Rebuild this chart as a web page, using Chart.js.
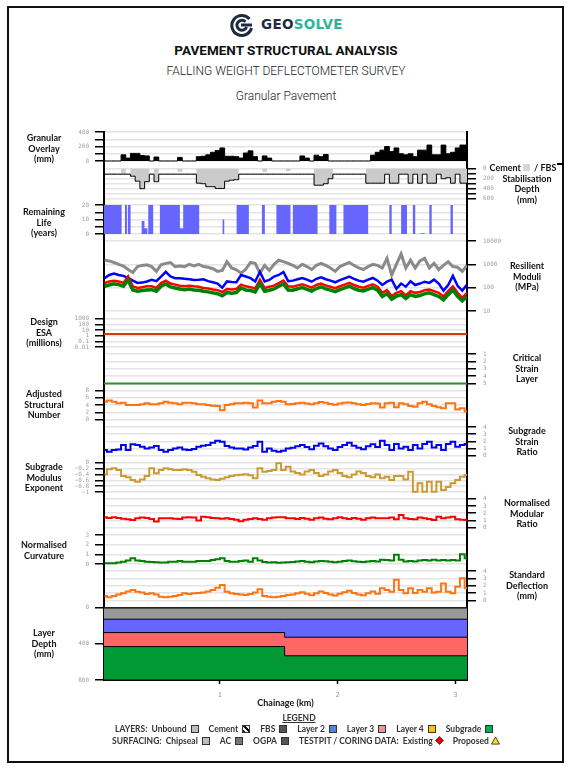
<!DOCTYPE html>
<html>
<head>
<meta charset="utf-8">
<script src="https://cdn.jsdelivr.net/npm/chart.js@4.4.1/dist/chart.umd.min.js"></script>
<style>
body { margin:0; background:#fff; }
#page { position:relative; width:572px; height:770px; overflow:hidden; font-family: Roboto, sans-serif; }
#frame { position:absolute; left:7px; top:6px; width:557px; height:757px; border:2px solid #111; box-sizing:border-box; }
canvas { position:absolute; left:0; top:0; }
.t { position:absolute; left:0; width:572px; text-align:center; color:#222; white-space:nowrap; }
.lbl { position:absolute; width:80px; text-align:center; font:700 9px/10.5px Lato, sans-serif; color:#111; z-index:2; }
.leg { position:absolute; white-space:nowrap; font:700 8.5px/10px Lato, sans-serif; color:#333; z-index:2; }
.sw { display:inline-block; width:8px; height:8px; border:1px solid #333; vertical-align:-1px; margin:0 10px 0 4px; box-sizing:border-box; }
.hatch { background:repeating-linear-gradient(45deg,#111 0 2px,#eee 2px 4px); }
</style>
</head>
<body>
<div id="page">
  <div id="frame"></div>

  <div style="position:absolute;left:230px;top:13px;">
    <svg width="24" height="24" viewBox="0 0 24 24">
      <path d="M19.5 6 A10 10 0 1 0 21.5 15" fill="none" stroke="#1d2b44" stroke-width="3"/>
      <path d="M15.5 8.8 A5 5 0 1 0 16.6 14" fill="none" stroke="#1d2b44" stroke-width="3"/>
      <path d="M11 12 H22" stroke="#1d2b44" stroke-width="3"/>
    </svg>
  </div>
  <div style="position:absolute;left:261px;top:16px;font:900 13.5px 'DejaVu Sans',sans-serif;letter-spacing:0.3px;">
    <span style="color:#1d2b44">GEO</span><span style="color:#2bb596">SOLVE</span>
  </div>
  <div class="t" style="top:42px;font:700 13.5px Roboto,sans-serif;color:#111;">PAVEMENT STRUCTURAL ANALYSIS</div>
  <div class="t" style="top:64px;font:300 12px Roboto,sans-serif;">FALLING WEIGHT DEFLECTOMETER SURVEY</div>
  <div class="t" style="top:89px;font:300 12px Roboto,sans-serif;">Granular Pavement</div>

  <div class="lbl" style="left:4px;top:133px;">Granular<br>Overlay<br>(mm)</div>
  <div class="lbl" style="left:4px;top:207px;">Remaining<br>Life<br>(years)</div>
  <div class="lbl" style="left:4px;top:317px;">Design<br>ESA<br>(millions)</div>
  <div class="lbl" style="left:4px;top:389px;">Adjusted<br>Structural<br>Number</div>
  <div class="lbl" style="left:4px;top:462px;">Subgrade<br>Modulus<br>Exponent</div>
  <div class="lbl" style="left:4px;top:540px;">Normalised<br>Curvature</div>
  <div class="lbl" style="left:4px;top:628px;">Layer<br>Depth<br>(mm)</div>

  <div class="lbl" style="left:482px;top:163px;width:90px;">Cement<span style="display:inline-block;width:7px;height:7px;background:#d6d6d6;margin:0 2px;"></span> / FBS<span style="display:inline-block;width:7px;height:2px;background:#000;vertical-align:6px;margin-left:1px;"></span><br>Stabilisation<br>Depth<br>(mm)</div>
  <div class="lbl" style="left:487px;top:261px;">Resilient<br>Moduli<br>(MPa)</div>
  <div class="lbl" style="left:487px;top:353px;">Critical<br>Strain<br>Layer</div>
  <div class="lbl" style="left:487px;top:426px;">Subgrade<br>Strain<br>Ratio</div>
  <div class="lbl" style="left:487px;top:498px;">Normalised<br>Modular<br>Ratio</div>
  <div class="lbl" style="left:487px;top:570px;">Standard<br>Deflection<br>(mm)</div>

  <div class="leg" style="left:0;width:598px;text-align:center;top:713px;"><u>LEGEND</u></div>
  <div class="leg" style="left:115px;top:724px;">LAYERS:&nbsp; Unbound<i class="sw" style="background:#bdbdbd"></i>Cement<i class="sw hatch"></i>FBS<i class="sw" style="background:#555"></i>Layer 2<i class="sw" style="background:#4f86d9"></i>Layer 3<i class="sw" style="background:#e39a9a"></i>Layer 4<i class="sw" style="background:#ffc400"></i>Subgrade<i class="sw" style="background:#00b050"></i></div>
  <div class="leg" style="left:112px;top:736px;">SURFACING:&nbsp; Chipseal<i class="sw" style="background:#bdbdbd"></i>AC<i class="sw" style="background:#777"></i>OGPA<i class="sw" style="background:#555"></i>TESTPIT / CORING DATA:&nbsp; Existing <svg width="9" height="9" viewBox="0 0 10 10" style="vertical-align:-1px;margin-right:9px"><path d="M5 0.5 L9.5 5 L5 9.5 L0.5 5 Z" fill="#e00" stroke="#333"/></svg>Proposed <svg width="9" height="9" viewBox="0 0 10 10" style="vertical-align:-1px"><path d="M5 1 L9.5 9 L0.5 9 Z" fill="#ffe000" stroke="#333"/></svg></div>

  <canvas id="chart" width="572" height="770"></canvas>
</div>

<script>
// chainage (km) of each test point
const chainage = [0.02,0.06,0.10,0.14,0.18,0.22,0.26,0.30,0.34,0.38,0.42,0.46,0.50,0.54,0.58,0.62,0.66,0.70,0.74,0.78,
  0.82,0.86,0.90,0.94,0.98,1.02,1.06,1.10,1.14,1.18,1.22,1.26,1.30,1.34,1.38,1.42,1.46,1.50,1.54,1.58,
  1.62,1.66,1.70,1.74,1.78,1.82,1.86,1.90,1.94,1.98,2.02,2.06,2.10,2.14,2.18,2.22,2.26,2.30,2.34,2.38,
  2.42,2.46,2.50,2.54,2.58,2.62,2.66,2.70,2.74,2.78,2.82,2.86,2.90,2.94,2.98,3.02,3.06,3.10];

const granularOverlay = [0,0,0,0,85,40,105,105,75,70,0,55,0,0,0,0,50,0,0,0,
  60,65,85,120,145,180,65,65,60,40,110,140,60,0,70,40,0,0,0,0,
  0,0,70,40,0,80,60,90,0,0,0,0,0,0,0,0,0,80,120,150,
  200,130,180,100,85,100,60,150,150,220,85,85,220,100,120,180,220,220];

const cementDepth = [0,0,0,0,110,0,150,250,400,260,0,260,0,0,0,0,60,0,0,0,
  290,300,360,360,395,395,250,230,220,0,0,0,0,0,60,0,0,0,0,50,
  0,0,0,0,0,330,330,300,200,0,0,0,0,0,0,0,290,290,290,290,
  100,290,290,100,100,290,100,290,100,290,290,100,200,180,290,100,290,290];
const fbsDepth = [110,110,110,110,110,110,150,250,400,260,110,260,110,110,110,110,110,110,110,110,
  290,300,360,360,395,395,250,230,220,110,110,110,110,110,110,110,110,110,110,110,
  110,110,110,110,110,330,330,300,200,110,110,110,110,110,110,110,290,290,290,290,
  110,290,290,110,110,290,110,290,110,290,290,110,200,180,290,110,290,290];

// remaining life is given as steps: value holds from each chainage to the next
const lifeChainage = [0.015,0.165,0.193,0.210,0.218,0.241,0.335,0.359,0.384,0.391,0.433,0.490,0.660,0.688,0.824,1.023,1.037,1.142,1.246,1.357,1.382,
  1.480,1.600,1.620,1.830,1.930,1.990,2.050,2.260,2.440,2.460,2.540,2.590,2.640,2.660,2.705,2.740,2.780,2.800,2.960,2.980,3.100];
const remainingLife = [20,0,20,0,20,0,9,4,0,20,0,20,4,20,0,10,0,20,0,20,0,
  20,0,20,0,20,0,20,0,20,0,20,0,20,0,0.6,0,20,0,20,0,0];

// resilient moduli (MPa)
const modulusGrey = [1500,1400,1200,1000,850,600,450,800,900,950,800,500,950,1100,1200,800,850,800,1000,850,
  1000,800,750,650,500,550,1300,700,580,420,620,1200,1100,420,900,550,1000,1500,1300,1100,
  900,700,1000,800,600,900,1100,900,700,500,800,1000,1200,900,700,600,800,1000,900,700,
  1800,350,1000,2800,700,1500,700,1400,1800,700,1100,600,900,1300,800,750,500,900];
const modulusBlue = [255,350,400,350,320,260,200,160,165,185,215,190,300,480,300,255,255,240,230,215,
  220,230,190,170,150,100,185,175,170,350,300,255,185,480,185,215,300,350,470,190,
  200,230,260,220,180,240,280,230,200,170,210,250,300,240,200,180,220,260,200,130,
  180,220,90,150,110,190,130,150,180,160,220,150,75,130,320,120,75,135];
const modulusRed = [158,185,200,185,158,300,114,97,105,114,114,97,158,200,150,135,122,114,122,114,
  110,97,92,83,78,65,88,83,88,135,114,105,92,215,97,110,122,158,200,114,
  110,125,140,120,100,130,150,125,110,95,115,135,160,130,110,100,120,140,110,60,
  78,44,60,71,47,71,60,65,78,83,71,60,42,71,114,60,37,60];
const modulusGreen = [115,130,145,135,115,210,80,70,75,80,82,70,115,145,108,97,88,82,88,80,
  78,70,66,60,55,45,62,58,62,97,80,75,66,150,70,78,88,115,145,80,
  78,90,100,85,72,92,108,90,78,68,82,97,115,92,78,72,86,100,78,42,
  55,32,43,50,34,50,42,46,55,60,50,42,30,50,80,42,27,42];

const esaChainage = [0.015, 3.1];
const designEsa = [2, 2];
const criticalLayer = [5, 5];

const structuralNumber = [4.9,5.2,4.9,4.5,4.6,4.0,4.0,4.0,4.2,4.5,4.2,4.2,4.5,4.9,4.6,4.5,4.2,4.6,4.6,4.5,
  4.2,4.2,4.0,3.8,3.7,2.6,4.0,4.2,4.5,4.5,4.6,4.5,3.3,5.2,4.5,4.5,4.9,5.1,4.9,4.2,
  4.3,4.5,4.6,4.4,4.2,4.5,4.8,4.6,4.3,4.1,4.4,4.6,4.7,4.5,4.2,4.0,4.3,4.5,4.4,3.3,
  4.5,4.6,3.4,4.5,4.2,3.7,3.55,4.5,4.9,4.2,3.7,3.4,3.1,4.5,4.5,2.8,3.1,2.2];
const strainRatio = [0.8,0.56,0.8,0.88,1.5,0.8,1.6,1.5,1.25,1.0,1.16,1.35,0.8,0.56,0.8,1.0,1.16,0.88,0.8,0.95,
  1.25,1.4,1.5,1.8,2.1,1.95,1.35,1.16,1.0,1.0,0.88,1.16,1.35,1.95,0.56,1.0,0.7,0.56,0.7,1.0,
  1.1,1.3,1.5,1.2,0.9,1.4,1.7,1.3,1.0,0.8,1.2,1.5,1.8,1.4,1.1,0.9,1.3,1.6,1.2,2.08,
  1.49,0.8,1.62,1.0,1.25,0.8,1.5,1.0,1.62,1.94,1.16,1.5,0.8,1.62,1.94,1.25,1.5,1.62];
const modulusExponent = [-0.4,-0.22,-0.19,-0.25,-0.45,-0.5,-0.59,-0.65,-0.57,-0.45,-0.19,-0.36,-0.25,-0.19,-0.22,-0.25,-0.25,-0.22,-0.25,-0.31,
  -0.42,-0.48,-0.53,-0.57,-0.59,-0.55,-0.5,-0.45,-0.43,-0.41,-0.39,-0.43,-0.53,-0.19,-0.31,-0.28,-0.25,-0.02,-0.25,-0.14,
  -0.3,-0.35,-0.4,-0.3,-0.25,-0.35,-0.45,-0.4,-0.3,-0.25,-0.35,-0.45,-0.5,-0.4,-0.3,-0.35,-0.45,-0.5,-0.4,-0.53,
  -0.48,-0.59,-0.45,-0.45,-0.57,-0.31,-0.99,-0.7,-0.99,-0.65,-0.99,-0.65,-0.93,-0.83,-0.7,-0.59,-0.48,-0.42];
const modularRatio = [1.45,1.35,1.45,1.35,1.25,1.15,1.05,1.3,1.4,1.35,1.2,0.85,1.3,1.3,1.3,1.25,1.2,1.4,1.45,1.4,
  1.0,1.5,1.45,1.35,1.3,1.25,1.3,1.2,1.1,0.9,1.1,1.2,1.3,1.2,1.1,1.3,1.4,1.45,1.45,1.3,
  1.3,1.2,1.35,1.25,1.1,1.3,1.4,1.25,1.15,1.3,1.45,1.3,1.2,1.35,1.25,1.1,1.3,1.4,1.3,1.3,
  1.3,1.4,1.15,1.75,1.3,1.2,1.15,1.4,1.3,1.2,1.05,1.5,1.3,1.4,1.5,1.15,1.1,1.05];
const curvature = [0.07,0.07,0.07,0.15,0.24,0.35,0.59,0.35,0.3,0.24,0.2,0.17,0.15,0.15,0.24,0.24,0.3,0.24,0.24,0.24,
  0.3,0.3,0.3,0.41,0.5,0.59,0.3,0.24,0.24,0.3,0.35,0.24,0.59,0.35,0.2,0.15,0.17,0.12,0.15,0.17,
  0.2,0.25,0.3,0.22,0.18,0.25,0.32,0.28,0.22,0.18,0.24,0.3,0.35,0.28,0.22,0.2,0.26,0.32,0.25,0.45,
  0.41,0.35,0.95,0.45,0.25,0.3,0.25,0.35,0.41,0.35,0.45,0.35,0.41,0.35,0.41,0.35,1.0,0.6];
const deflection = [0.6,0.4,0.6,0.8,0.95,1.2,1.4,1.17,1.05,0.85,0.95,0.8,0.5,0.4,0.5,0.6,0.72,0.95,0.85,0.95,
  1.0,1.05,1.2,1.4,1.7,2.1,1.17,0.95,0.85,0.8,0.72,0.85,1.05,1.5,0.6,0.5,0.4,0.5,0.6,0.72,
  0.8,0.95,1.1,0.9,0.7,0.95,1.2,1.0,0.8,0.65,0.9,1.1,1.3,1.0,0.8,0.7,0.95,1.2,0.9,1.63,
  1.4,1.17,2.8,1.4,0.95,1.63,1.0,1.4,1.17,1.63,1.05,1.17,2.3,1.17,0.95,1.85,3.0,1.63];

// layer bottoms (mm), each value holds from its chainage to the next
const layerChainage = [0.015, 1.55, 3.1];
const unboundBase = [131, 131, 131];
const layer2Base = [278, 329, 329];
const layer3Base = [432, 534, 534];
const subgradeBase = [800, 800, 800];
const surface = [0, 0, 0];

const kmTicks = [1, 2, 3];

const pts = (xs, ys) => xs.map((x, i) => ({ x: x, y: ys[i] }));
const fmt = v => v < 0 ? '\u2212' + Math.abs(v) : String(v);

// one panel axis: band = pixel rows it occupies, ref = two (pixel, value) pairs
function panelAxis(p) {
  const f = p.log ? Math.log10 : (v => v);
  const g = p.log ? (v => Math.pow(10, v)) : (v => v);
  const k = (f(p.ref[1][1]) - f(p.ref[0][1])) / (p.ref[1][0] - p.ref[0][0]);
  const at = px => g(f(p.ref[0][1]) + (px - p.ref[0][0]) * k);
  const a = at(p.band[0]), b = at(p.band[1]);
  const labels = p.labels || p.ticks;
  return {
    type: p.log ? 'logarithmic' : 'linear',
    position: p.pos,
    stack: p.pos,
    stackWeight: p.band[1] - p.band[0],
    weight: p.weight,
    reverse: k > 0,
    min: Math.min(a, b),
    max: Math.max(a, b),
    afterBuildTicks: s => { s.ticks = p.ticks.map(v => ({ value: v })); },
    afterFit: s => { s.width = p.pos === 'left' ? 30 : 40; },
    ticks: {
      autoSkip: false, padding: p.pos === 'left' ? 6 : 7, color: '#a0a0a0',
      font: { size: 6 },
      callback: v => labels.includes(v) ? fmt(v) : ''
    },
    grid: { color: '#e4e4e4', lineWidth: 1.5, tickColor: '#000', tickLength: 9, tickWidth: 1.5 },
    border: { color: '#000', width: 2 }
  };
}

Chart.defaults.font.family = '"DejaVu Sans Mono", monospace';

const line = (label, axis, data, color, width, extra) => Object.assign({
  label: label, yAxisID: axis, data: data, borderColor: color, backgroundColor: color,
  borderWidth: width, pointRadius: 0, fill: false, tension: 0
}, extra || {});

new Chart(document.getElementById('chart'), {
  type: 'line',
  data: {
    datasets: [
      line('Granular Overlay', 'yGO', pts(chainage, granularOverlay), '#000', 1, { stepped: 'middle', fill: 'origin' }),
      line('Cement', 'yStab', pts(chainage, cementDepth), 'rgba(0,0,0,0)', 1, { stepped: 'middle', fill: 'origin', backgroundColor: '#cbcbcb', order: 1 }),
      line('FBS', 'yStab', pts(chainage, fbsDepth), '#000', 1, { stepped: 'middle' }),
      line('Remaining Life', 'yRL', pts(lifeChainage, remainingLife), 'rgba(0,0,0,0)', 1, { stepped: 'before', fill: 'origin', backgroundColor: '#6666ff' }),
      line('Grey', 'yRM', pts(chainage, modulusGrey), '#8a8a8a', 3, { order: 4 }),
      line('Blue', 'yRM', pts(chainage, modulusBlue), '#0000ff', 2.5, { order: 3 }),
      line('Red', 'yRM', pts(chainage, modulusRed), '#ff0000', 2.5, { order: 2 }),
      line('Green', 'yRM', pts(chainage, modulusGreen), '#008000', 3.5, { order: 1 }),
      line('Design ESA', 'yESA', pts(esaChainage, designEsa), '#d03a10', 2),
      line('Critical Strain Layer', 'yCSL', pts(esaChainage, criticalLayer), '#2e8b2e', 2),
      line('Adjusted SN', 'yASN', pts(chainage, structuralNumber), '#ff7410', 2, { stepped: 'middle' }),
      line('Subgrade Strain Ratio', 'ySSR', pts(chainage, strainRatio), '#0000f0', 2, { stepped: 'middle' }),
      line('Subgrade Modulus Exponent', 'ySME', pts(chainage, modulusExponent), '#cc9933', 2, { stepped: 'middle' }),
      line('Normalised Modular Ratio', 'yNMR', pts(chainage, modularRatio), '#ff0000', 2, { stepped: 'middle' }),
      line('Normalised Curvature', 'yNC', pts(chainage, curvature), '#008000', 2, { stepped: 'middle' }),
      line('Standard Deflection', 'ySD', pts(chainage, deflection), '#ff7410', 2, { stepped: 'middle' }),
      line('Subgrade', 'yLD', pts(layerChainage, subgradeBase), '#000', 1, { stepped: 'before', fill: 'origin', backgroundColor: '#009933', order: 14 }),
      line('Layer 3', 'yLD', pts(layerChainage, layer3Base), '#000', 1, { stepped: 'before', fill: 'origin', backgroundColor: '#ff6666', order: 13 }),
      line('Layer 2', 'yLD', pts(layerChainage, layer2Base), '#000', 1, { stepped: 'before', fill: 'origin', backgroundColor: '#6666ff', order: 12 }),
      line('Unbound', 'yLD', pts(layerChainage, unboundBase), '#000', 1, { stepped: 'before', fill: 'origin', backgroundColor: '#999999', order: 11 }),
      line('Surface', 'yLD', pts(layerChainage, surface), '#000', 2.5, { order: 10 })
    ]
  },
  options: {
    responsive: false,
    animation: false,
    events: [],
    layout: { padding: { left: 74, right: 65, top: 132, bottom: 50 } },
    plugins: { legend: { display: false }, tooltip: { enabled: false } },
    scales: {
      x: {
        type: 'linear', position: 'bottom', min: 0.015, max: 3.1,
        afterBuildTicks: s => { s.ticks = kmTicks.map(v => ({ value: v })); },
        afterFit: s => { s.height = 40; },
        grid: { drawOnChartArea: false, tickLength: 4, tickColor: '#000', tickWidth: 1.5 },
        border: { color: '#000', width: 2 },
        ticks: { color: '#999', font: { size: 7 }, padding: 7, maxRotation: 0 },
        title: { display: true, text: 'Chainage (km)', color: '#111', padding: { top: 0, bottom: 12 },
          font: { family: 'Lato, sans-serif', size: 9, weight: 'bold' } }
      },
      yGO: panelAxis({ pos: 'left', weight: 7, band: [132, 165], ref: [[132, 400], [161, 0]], ticks: [0, 100, 200, 300, 400], labels: [0, 200, 400] }),
      yRL: panelAxis({ pos: 'left', weight: 6, band: [165, 238], ref: [[205, 20], [234, 0]], ticks: [0, 5, 10, 15, 20], labels: [0, 10, 20] }),
      yESA: panelAxis({ pos: 'left', weight: 5, log: true, band: [238, 352], ref: [[318.7, 1000], [347, 0.01]], ticks: [0.01, 0.1, 1, 10, 100, 1000] }),
      yASN: panelAxis({ pos: 'left', weight: 4, band: [352, 424], ref: [[390.3, 8], [419.7, 0]], ticks: [0, 2, 4, 6, 8] }),
      ySME: panelAxis({ pos: 'left', weight: 3, band: [424, 496], ref: [[462.7, 0], [492, -1]], ticks: [-1, -0.8, -0.6, -0.4, -0.2, 0] }),
      yNC: panelAxis({ pos: 'left', weight: 2, band: [496, 607.3], ref: [[535, 3], [564, 0]], ticks: [0, 1, 2, 3] }),
      yLD: panelAxis({ pos: 'left', weight: 1, band: [607.3, 680], ref: [[607.3, 0], [680, 800]], ticks: [0, 400, 800] }),
      yStab: panelAxis({ pos: 'right', weight: 1, band: [132, 203], ref: [[168.7, 0], [198.7, 600]], ticks: [0, 100, 200, 300, 400, 500, 600], labels: [0, 200, 400, 600] }),
      yRM: panelAxis({ pos: 'right', weight: 2, log: true, band: [203, 340], ref: [[241, 10000], [311, 10]], ticks: [10, 100, 1000, 10000] }),
      yCSL: panelAxis({ pos: 'right', weight: 3, band: [340, 418], ref: [[354, 1], [383.5, 5]], ticks: [1, 2, 3, 4, 5] }),
      ySSR: panelAxis({ pos: 'right', weight: 4, band: [418, 460], ref: [[427, 4], [455.7, 0]], ticks: [0, 1, 2, 3, 4] }),
      yNMR: panelAxis({ pos: 'right', weight: 5, band: [460, 532], ref: [[498.7, 4], [527.7, 0]], ticks: [0, 1, 2, 3, 4] }),
      ySD: panelAxis({ pos: 'right', weight: 6, band: [532, 607.3], ref: [[571, 4], [600.3, 0]], ticks: [0, 1, 2, 3, 4] }),
      yEnd: panelAxis({ pos: 'right', weight: 7, band: [607.3, 680], ref: [[607.3, 0], [680, 1]], ticks: [] })
    }
  }
});
</script>
</body>
</html>
